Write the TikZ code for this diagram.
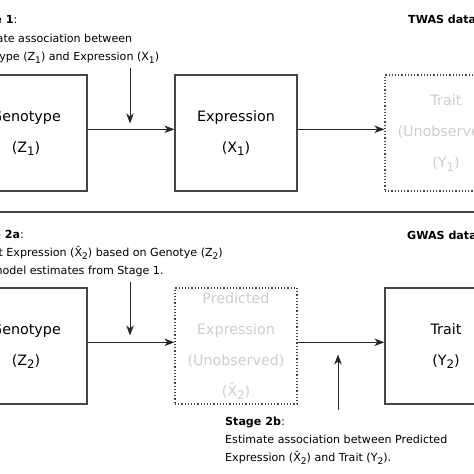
\documentclass[tikz,border=0pt]{standalone}
\usepackage{fontspec}
\usepackage{graphicx}
\setmainfont{DejaVu Sans}
\usetikzlibrary{positioning}
\usetikzlibrary{arrows.meta}
\definecolor{lineColor}{HTML}{454545}
\definecolor{hiddenColor}{HTML}{CDCDCD}
\newcommand{\idx}[1]{\raisebox{-0.45ex}{\scalebox{0.82}{#1}}}

\begin{document}
\begin{tikzpicture}[x=1pt,y=-1pt,
    box/.style={draw=lineColor, line width=1.2pt, minimum width=122pt, minimum height=116pt, align=center, font=\fontsize{14.3}{31}\selectfont},
    hidden/.style={box, dash pattern=on 1.2pt off 2pt, text=hiddenColor},
    note/.style={align=left, anchor=north west, inner sep=0pt, font=\fontsize{11.1}{18.2}\selectfont},
    arr/.style={-{Stealth[length=10pt, width=7.5pt, inset=3pt]}, line width=1pt, draw=black!85}]
          \useasboundingbox (0,0) rectangle (474,474);
          \clip (0,0) rectangle (474,474);
          % Stage 1
          \node[note] (stageA) at (-34.5,15.5) {\textbf{Stage 1}:\\Estimate association between\\Genotype (Z\idx{1}) and Expression (X\idx{1})};
          \node[note] (twas) at (408,15) {\textbf{TWAS data}};
          \node[box] (geno1) at (26,133) {Genotype\\(Z\idx{1})};
          \node[box] (expr1) at (236,133) {Expression\\(X\idx{1})};
          \node[hidden] (trait1) at (446,133) {Trait\\(Unobserved)\\(Y\idx{1})};
          \draw[arr] ([yshift=3.7pt]geno1.east) -- ([yshift=3.7pt]expr1.west);
          \draw[arr] ([yshift=3.7pt]expr1.east) -- ([yshift=3.7pt]trait1.west);
          \coordinate (a1) at (130,68);
          \coordinate (a1end) at (130,123.5);
          \draw[arr] (a1) -- (a1end);
          % separator
          \coordinate (sepL) at (0,212);
          \coordinate (sepR) at (474,212);
          \draw[lineColor, line width=1.2pt] (sepL) -- (sepR);
          % Stage 2a
          \node[note] (stageB) at (-35.5,230) {\textbf{Stage 2a}:\\Predict Expression (\^{X}\idx{2}) based on Genotye (Z\idx{2})\\with model estimates from Stage 1.};
          \node[note] (gwas) at (407,230.5) {\textbf{GWAS data}};
          \node[box] (geno2) at (26,346) {Genotype\\(Z\idx{2})};
          \node[hidden] (expr2) at (236,346) {Predicted\\Expression\\(Unobserved)\\(\^{X}\idx{2})};
          \node[box] (trait2) at (446,346) {Trait\\(Y\idx{2})};
          \draw[arr] ([yshift=3.7pt]geno2.east) -- ([yshift=3.7pt]expr2.west);
          \draw[arr] ([yshift=3.7pt]expr2.east) -- ([yshift=3.7pt]trait2.west);
          \coordinate (a2) at (130,282);
          \coordinate (a2end) at (130,335.5);
          \draw[arr] (a2) -- (a2end);
          % Stage 2b
          \coordinate (b2) at (338,410);
          \coordinate (b2end) at (338,354.5);
          \draw[arr] (b2) -- (b2end);
          \node[note] (stageC) at (225,416.5) {\textbf{Stage 2b}:\\Estimate association between Predicted\\Expression (\^{X}\idx{2}) and Trait (Y\idx{2}).};
        \end{tikzpicture}
\end{document}
